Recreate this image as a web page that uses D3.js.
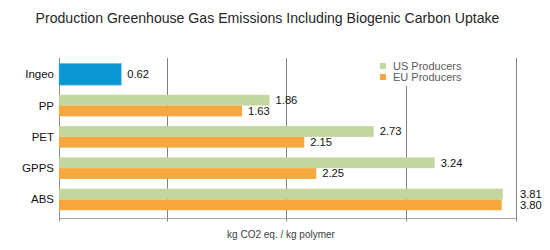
<!DOCTYPE html>
<html>
<head>
<meta charset="utf-8">
<style>
    body { margin: 0; background: #fff; }
    svg { display: block; font-family: "Liberation Sans", Arial, sans-serif; }
    .title { font-size: 14.1px; fill: #262626; }
    .cat { font-size: 11.5px; fill: #111; }
    .val { font-size: 11.2px; fill: #111; }
    .legend text { font-size: 11px; fill: #595959; }
    .xlabel { font-size: 10px; fill: #404040; }
</style>
</head>
<body>
<svg width="550" height="250"></svg>

<script src="https://d3js.org/d3.v7.min.js"></script>
<script>
    let width = 550;
    let height = 250;

    // data
    let categories = ["Ingeo", "PP", "PET", "GPPS", "ABS"];
    let ingeoValue = 0.62;
    let usValues = [null, 1.86, 2.73, 3.24, 3.81];
    let euValues = [null, 1.63, 2.15, 2.25, 3.80];
    let seriesNames = ["US Producers", "EU Producers"];
    let gridTicks = [1, 2, 3];

    let colors = {
        ingeo: "#0a95d3",
        us: "#c3d69e",
        eu: "#f6a83e"
    };

    let svg = d3.select("svg");
    let plot = { top: 58, bottom: 218.5, left: 59, right: 516 };

    let x = d3.scaleLinear()
        .domain([0.1, 3.92])
        .range([plot.left, plot.right]);

    let y = d3.scaleBand()
        .domain(categories)
        .range([plot.top, plot.bottom])
        .paddingInner(0.31)
        .paddingOuter(0.22)
        .align(0.4);

    // title
    svg.append("text")
        .attr("class", "title")
        .attr("x", 267.5)
        .attr("y", 23)
        .attr("text-anchor", "middle")
        .text("Production Greenhouse Gas Emissions Including Biogenic Carbon Uptake");

    // vertical grid lines (they run a little below the axis like ticks)
    svg.append("g")
        .selectAll("line")
        .data(gridTicks.concat([x.domain()[1]]))
        .join("line")
        .attr("x1", d => Math.round(x(d)) + 0.5)
        .attr("x2", d => Math.round(x(d)) + 0.5)
        .attr("y1", plot.top)
        .attr("y2", plot.bottom + 3)
        .attr("stroke", "#808080")
        .attr("stroke-width", 1);

    // bottom axis line + left axis
    svg.append("line")
        .attr("x1", plot.left).attr("x2", plot.right + 0.5)
        .attr("y1", plot.bottom).attr("y2", plot.bottom)
        .attr("stroke", "#a6a6a6");

    svg.append("line")
        .attr("x1", plot.left + 0.5).attr("x2", plot.left + 0.5)
        .attr("y1", plot.top).attr("y2", plot.bottom + 3)
        .attr("stroke", "#8c8c8c");

    // legend (white box hides the grid line behind it)
    let legend = svg.append("g").attr("class", "legend");
    legend.append("rect")
        .attr("x", 376).attr("y", plot.top)
        .attr("width", 84).attr("height", 28)
        .attr("fill", "#fff");

    let legendItems = legend.selectAll("g.item")
        .data(seriesNames)
        .join("g")
        .attr("class", "item")
        .attr("transform", (d, i) => `translate(380,${63 + i * 11})`);

    legendItems.append("rect")
        .attr("width", 6).attr("height", 6)
        .attr("fill", (d, i) => i === 0 ? colors.us : colors.eu);

    legendItems.append("text")
        .attr("x", 13)
        .attr("y", 7)
        .text(d => d);

    // bars
    let half = y.bandwidth() / 2;
    let bars = svg.append("g");

    // Ingeo: one full-height bar
    bars.append("rect")
        .attr("x", x(x.domain()[0]))
        .attr("y", y("Ingeo"))
        .attr("width", x(ingeoValue) - x(x.domain()[0]))
        .attr("height", y.bandwidth())
        .attr("fill", colors.ingeo)
        .attr("stroke", "#5fb8e4")
        .attr("stroke-width", 0.6);

    let pairs = [];
    categories.forEach((c, i) => {
        if (usValues[i] != null) pairs.push({ cat: c, v: usValues[i], key: "us", off: 0 });
        if (euValues[i] != null) pairs.push({ cat: c, v: euValues[i], key: "eu", off: half });
    });

    bars.selectAll("rect.pair")
        .data(pairs)
        .join("rect")
        .attr("class", "pair")
        .attr("x", x(x.domain()[0]))
        .attr("y", d => y(d.cat) + d.off)
        .attr("width", d => x(d.v) - x(x.domain()[0]))
        .attr("height", half)
        .attr("fill", d => colors[d.key]);

    // value labels
    let labelX = v => {
        let px = x(v) + 6;
        // labels that would run into the right frame sit outside it
        if (px + 22 > plot.right) px = plot.right + 4;
        return px;
    };

    svg.append("text")
        .attr("class", "val")
        .attr("x", labelX(ingeoValue))
        .attr("y", y("Ingeo") + half)
        .attr("dy", "0.35em")
        .text(ingeoValue.toFixed(2));

    svg.append("g")
        .selectAll("text")
        .data(pairs)
        .join("text")
        .attr("class", "val")
        .attr("x", d => labelX(d.v))
        .attr("y", d => y(d.cat) + d.off + half / 2)
        .attr("dy", "0.35em")
        .text(d => d.v.toFixed(2));

    // category labels
    svg.append("g")
        .selectAll("text")
        .data(categories)
        .join("text")
        .attr("class", "cat")
        .attr("x", plot.left - 5)
        .attr("y", d => y(d) + half)
        .attr("dy", "0.35em")
        .attr("text-anchor", "end")
        .text(d => d);

    // x axis title
    svg.append("text")
        .attr("class", "xlabel")
        .attr("x", 281)
        .attr("y", 238)
        .attr("text-anchor", "middle")
        .text("kg CO2 eq. / kg polymer");
</script>
</body>
</html>
